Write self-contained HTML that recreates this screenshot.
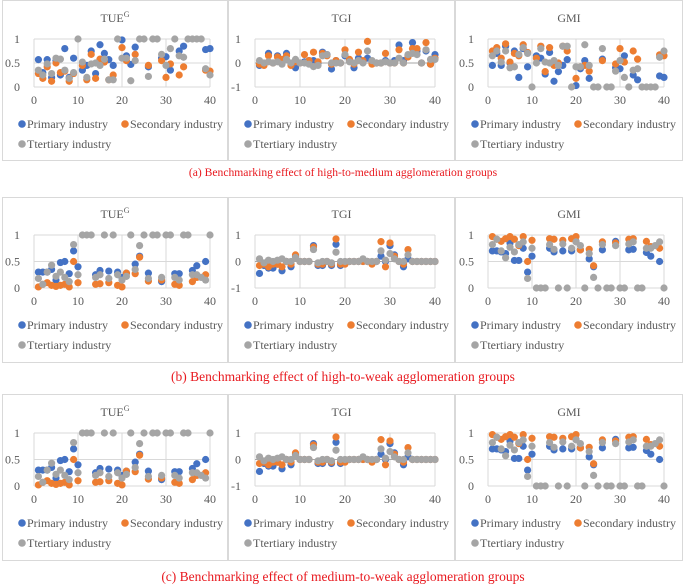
<!DOCTYPE html>
<html><head><meta charset="utf-8">
<style>
html,body{margin:0;padding:0;background:#fff;}
svg{display:block;font-family:"Liberation Serif",serif;}
</style></head>
<body>
<svg id="fig" width="685" height="588" viewBox="0 0 685 588" xmlns="http://www.w3.org/2000/svg"></svg>
<script>
// ---------- data (x = 1..40) ----------
const xs = Array.from({length:40},(_,i)=>i+1);
const xTicks = [0,10,20,30,40];
const unitTicks = [0,0.5,1];
const unitTickLabels = ["0","0.5","1"];
const tgiTicks = [-1,0,1];
const tgiTickLabels = ["-1","0","1"];
const seriesNames = ["Primary industry","Secondary industry","Ttertiary industry"];
const captions = ["(a) Benchmarking effect of high-to-medium agglomeration groups",
 "(b)  Benchmarking effect of high-to-weak agglomeration groups",
 "(c)  Benchmarking effect of medium-to-weak agglomeration groups"];
const n=null;
// row a
const a_tueP=[.57,.3,.57,.2,.55,.25,.8,.2,.6,n,.35,.45,.75,.28,.88,.7,.57,.45,n,.98,.65,.47,.83,n,n,.42,n,n,.6,.63,.35,n,.75,.85,n,n,n,n,.78,.8];
const a_tueS=[.28,.18,.42,.12,.5,.3,.33,.12,.28,n,.45,.15,.68,.18,.58,.52,.15,.25,n,.82,.55,n,.68,n,n,.45,n,n,.55,.2,.48,n,.25,.42,n,n,n,n,.35,.33];
const a_tueT=[.35,.25,.48,.28,.6,.58,.35,.18,.3,1,.52,.2,.48,.5,.45,.58,.15,.15,1,.6,.6,.13,.55,1,1,.22,1,1,.68,.45,.8,1,.65,.62,1,1,1,1,.38,.25];
const a_tgiP=[-.1,-.05,.4,0,.3,.1,.4,-.05,-.2,0,.05,.1,.1,0,.45,.35,-.25,.1,0,.3,.1,-.2,.2,.05,.2,0,0,0,.1,0,.1,.75,.1,.3,.85,.5,0,.5,-.05,.35];
const a_tgiS=[-.05,-.1,.3,0,.25,.15,.3,-.1,.05,0,.35,.1,.45,.05,.4,.3,-.05,.1,0,.55,.15,-.05,.45,.1,.9,-.05,0,0,.4,0,0,.55,0,.25,.6,.6,0,.85,-.05,.2];
const a_tgiT=[.1,0,.05,0,.05,-.05,.15,0,.15,0,0,-.05,-.15,-.1,.3,.35,0,0,0,.35,.05,0,.1,0,.5,.1,0,0,.05,0,0,.2,0,.35,.4,.35,0,.55,.15,.15];
const a_gmiP=[.45,.7,.45,.85,.5,.75,.2,.8,.42,n,.65,.6,.27,.72,.12,.32,.45,.57,n,.03,.38,.55,.18,n,n,.58,n,n,.4,.38,.65,n,.25,.15,n,n,n,n,.23,.2];
const a_gmiS=[.75,.82,.6,.9,.52,.7,.65,.88,.72,n,.6,.85,.32,.82,.45,.5,.85,.75,n,.18,.42,.45,.33,n,n,.55,n,n,.48,.8,.52,n,.75,.58,n,n,n,n,.67,.65];
const a_gmiT=[.65,.75,.52,.75,.4,.42,.68,.82,.7,0,.5,.8,.52,.5,.55,.45,.85,.85,0,.42,.42,.88,.45,0,0,.8,0,0,.33,.55,.2,0,.35,.38,0,0,0,0,.62,.75];
// row b
const b_tueP=[.3,.3,.3,.35,.15,.48,.5,.27,.7,.4,n,n,n,.25,.33,n,.32,n,.3,.2,.28,n,.45,.6,n,.28,n,n,.12,n,n,.27,.27,n,n,.33,.42,n,.5,n];
const b_tueS=[.02,.07,.1,.05,.03,.05,.07,.02,.5,.1,n,n,n,.07,.08,n,.1,n,.05,.02,.28,n,.27,.58,n,.13,n,n,.15,n,n,.07,.05,n,n,.12,.2,n,.25,n];
const b_tueT=[.18,.07,.3,.43,.22,.3,.2,.12,.82,.25,1,1,1,.2,.25,1,.18,1,.25,.15,.22,1,.35,.8,1,.18,1,1,.2,1,1,.2,.15,1,1,.25,.25,.2,.15,1];
const b_tgiP=[-.45,-.15,-.25,-.25,-.1,-.35,0,-.2,.2,0,0,0,.6,-.15,-.15,0,-.15,.65,-.15,-.05,0,0,0,0,0,-.05,0,.2,0,.6,.25,0,-.2,.1,0,0,0,0,0,0];
const b_tgiS=[-.15,-.1,-.2,-.1,-.1,-.2,0,-.1,.25,0,0,0,.55,-.1,-.1,0,-.1,.85,-.1,-.1,0,0,0,0,0,-.1,0,.75,-.2,.7,.2,0,-.1,.45,0,0,0,0,0,0];
const b_tgiT=[.1,-.05,.05,0,.05,.1,0,0,.15,0,0,0,.45,-.05,0,0,-.05,.35,0,0,0,0,0,.1,0,0,0,.4,.05,.3,.1,0,0,.25,0,0,0,0,0,0];
const b_gmiP=[.7,.7,.68,.65,.85,.52,.52,.75,.3,.6,n,n,n,.75,.68,n,.7,n,.7,.88,.72,n,.55,.4,n,.72,n,n,.88,n,n,.72,.73,n,n,.67,.6,n,.5,n];
const b_gmiS=[.97,.92,.88,.93,.97,.92,.8,.97,.5,.9,n,n,n,.93,.92,n,.9,n,.93,.97,.72,n,.73,.42,n,.87,n,n,.85,n,n,.92,.93,n,n,.88,.78,n,.75,n];
const b_gmiT=[.82,.92,.7,.57,.77,.68,.82,.87,.18,.75,0,0,0,.82,.73,0,.83,0,.75,.87,.8,0,.65,.2,0,.82,0,0,.8,0,0,.83,.87,0,0,.75,.75,.8,.87,0];
// row c
const c_tueP=[.3,.3,.3,.35,.15,.48,.5,.27,.7,.4,n,n,n,.25,.33,n,.32,n,.3,.2,.28,n,.45,.6,n,.28,n,n,.12,n,n,.27,.27,n,n,.33,.42,n,.5,n];
const c_tueS=[.02,.07,.1,.05,.03,.05,.07,.02,.5,.1,n,n,n,.07,.08,n,.1,n,.05,.02,.28,n,.27,.58,n,.13,n,n,.15,n,n,.07,.05,n,n,.12,.2,n,.25,n];
const c_tueT=[.18,.07,.3,.43,.22,.3,.2,.12,.82,.25,1,1,1,.2,.25,1,.18,1,.25,.15,.22,1,.35,.8,1,.18,1,1,.2,1,1,.2,.15,1,1,.25,.25,.2,.15,1];
const c_tgiP=[-.45,-.15,-.25,-.25,-.1,-.35,0,-.2,.2,0,0,0,.6,-.15,-.15,0,-.15,.65,-.15,-.05,0,0,0,0,0,-.05,0,.2,0,.6,.25,0,-.2,.1,0,0,0,0,0,0];
const c_tgiS=[-.15,-.1,-.2,-.1,-.1,-.2,0,-.1,.25,0,0,0,.55,-.1,-.1,0,-.1,.85,-.1,-.1,0,0,0,0,0,-.1,0,.75,-.2,.7,.2,0,-.1,.45,0,0,0,0,0,0];
const c_tgiT=[.1,-.05,.05,0,.05,.1,0,0,.15,0,0,0,.45,-.05,0,0,-.05,.35,0,0,0,0,0,.1,0,0,0,.4,.05,.3,.1,0,0,.25,0,0,0,0,0,0];
const c_gmiP=[.7,.7,.68,.65,.85,.52,.52,.75,.3,.6,n,n,n,.75,.68,n,.7,n,.7,.88,.72,n,.55,.4,n,.72,n,n,.88,n,n,.72,.73,n,n,.67,.6,n,.5,n];
const c_gmiS=[.97,.92,.88,.93,.97,.92,.8,.97,.5,.9,n,n,n,.93,.92,n,.9,n,.93,.97,.72,n,.73,.42,n,.87,n,n,.85,n,n,.92,.93,n,n,.88,.78,n,.75,n];
const c_gmiT=[.82,.92,.7,.57,.77,.68,.82,.87,.18,.75,0,0,0,.82,.73,0,.83,0,.75,.87,.8,0,.65,.2,0,.82,0,0,.8,0,0,.83,.87,0,0,.75,.75,.8,.87,0];

const colors=["#4472C4","#ED7D31","#A5A5A5"];
const svg=document.getElementById('fig');
const NS="http://www.w3.org/2000/svg";
function mk(tag,attrs,parent){const e=document.createElementNS(NS,tag);for(const k in attrs)e.setAttribute(k,attrs[k]);(parent||svg).appendChild(e);return e;}
function txt(s,attrs,parent){const e=mk('text',attrs,parent);e.textContent=s;return e;}

const cols=[{bx:2,bw:226,px0:34,px1:210},{bx:228,bw:227,px0:255,px1:435},{bx:455,bw:228,px0:488,px1:664}];
const rows=[{by:0,bh:160,top:39,bot:87},{by:197,bh:165,top:235,bot:288},{by:394,bh:166,top:433,bot:486}];
const rowKeys=["a","b","c"];
const capSizes=[11.6,13.5,13.5];
const panelDefs=[{key:"tue",title:"TUE",sup:"G",min:0,max:1,ticks:unitTicks,labels:unitTickLabels},
 {key:"tgi",title:"TGI",sup:"",min:-1,max:1,ticks:tgiTicks,labels:tgiTickLabels},
 {key:"gmi",title:"GMI",sup:"",min:0,max:1,ticks:unitTicks,labels:unitTickLabels}];
const dataMap={a_tueP,a_tueS,a_tueT,a_tgiP,a_tgiS,a_tgiT,a_gmiP,a_gmiS,a_gmiT,
 b_tueP,b_tueS,b_tueT,b_tgiP,b_tgiS,b_tgiT,b_gmiP,b_gmiS,b_gmiT,
 c_tueP,c_tueS,c_tueT,c_tgiP,c_tgiS,c_tgiT,c_gmiP,c_gmiS,c_gmiT};

rows.forEach((r,ri)=>{
 cols.forEach((c,ci)=>{
  const pd=panelDefs[ci];
  const g=mk('g',{});
  
  
  const box=mk('rect',{x:c.bx+0.5,y:r.by+0.5,width:c.bw-1,height:r.bh,fill:'#fff',stroke:'#d9d9d9'},g);
  
  
  const X=v=>c.px0+(v-0)/40*(c.px1-c.px0);
  const Y=v=>r.bot-(v-pd.min)/(pd.max-pd.min)*(r.bot-r.top);
  const t=txt(pd.title,{x:(c.bx+c.bw/2),y:r.top-17,'text-anchor':'middle','font-size':12,fill:'#595959'},g);
  if(pd.sup){const s=mk('tspan',{'font-size':8,dy:-5},t);s.textContent=pd.sup;}
  
  
  xTicks.forEach(v=>{const l=mk('line',{x1:X(v),x2:X(v),y1:r.top,y2:r.bot,stroke:'#d9d9d9','stroke-width':1},g);
   
   const tl=txt(String(v),{x:X(v),y:r.bot+17,'text-anchor':'middle','font-size':12,fill:'#595959'},g);
   });
  pd.ticks.forEach((v,i)=>{const l=mk('line',{x1:c.px0,x2:c.px1,y1:Y(v),y2:Y(v),stroke:(v===0&&pd.min<0)?'#a6a6a6':'#d9d9d9','stroke-width':1},g);
   
   const tl=txt(pd.labels[i],{x:c.px0-14,y:Y(v)+4,'text-anchor':'end','font-size':12,fill:'#595959'},g);
   });
  ['P','S','T'].forEach((sk,si)=>{
   const arr=dataMap[rowKeys[ri]+'_'+pd.key+sk];
   xs.forEach((xv,i)=>{const v=arr[i];if(v===null||v===undefined)return;
    const ci2=mk('circle',{cx:X(xv),cy:Y(v),r:3.6,fill:colors[si]},g);
    
    });
  });
  const lx=[c.bx+20,c.bx+123,c.bx+20];const ly=[r.bot+37,r.bot+37,r.bot+57];
  seriesNames.forEach((nm,si)=>{
   const lg=mk('g',{},g);
   
   
   mk('circle',{cx:lx[si],cy:ly[si],r:3.8,fill:colors[si]},lg);
   txt(nm,{x:lx[si]+5,y:ly[si]+4,'font-size':12,fill:'#595959'},lg);
  });
 });
 const cap=txt(captions[ri],{x:343,y:[176,381,581][ri],'text-anchor':'middle','font-size':capSizes[ri],fill:'#e8191f'});
 
 
});
</script>
</body></html>
